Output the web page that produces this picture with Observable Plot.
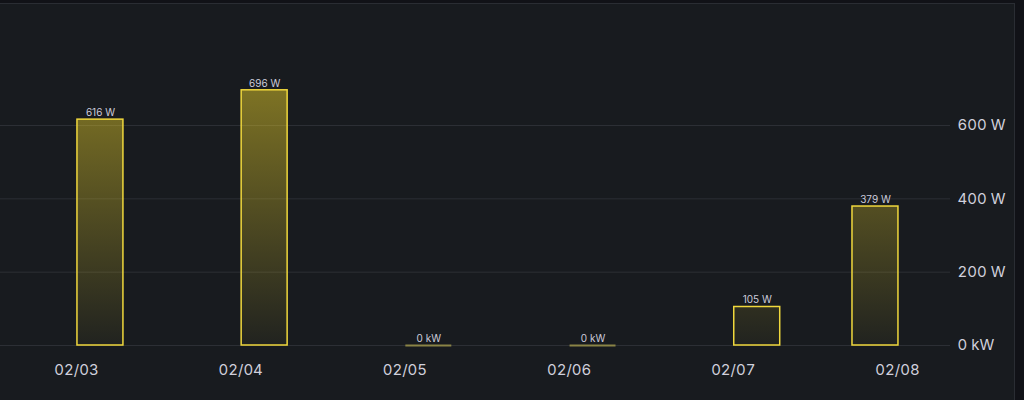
<!DOCTYPE html>
<html><head><meta charset="utf-8">
<script src="https://cdn.jsdelivr.net/npm/d3@7"></script>
<script src="https://cdn.jsdelivr.net/npm/@observablehq/plot@0.6"></script>
<style>
html,body{margin:0;padding:0;background:#111217;width:1024px;height:400px;overflow:hidden;font-family:Inter,"Noto Sans",sans-serif}
#panel{position:absolute;left:-2px;top:3px;width:1017px;height:420px;background:#181b1f;border:1px solid #2a2d33;box-sizing:border-box}
#chart{position:absolute;left:0;top:0}
</style></head><body>
<div id="panel"></div><div id="chart"></div>
<script>
// Data
const barTimes = ["2024-02-03T03:30Z","2024-02-04T03:30Z","2024-02-05T03:30Z","2024-02-06T03:30Z","2024-02-07T03:30Z","2024-02-07T20:47Z"];
const values = [616, 696, 0, 0, 105, 379];
const tickDates = ["2024-02-03","2024-02-04","2024-02-05","2024-02-06","2024-02-07","2024-02-08"];
const yTicks = [0, 200, 400, 600];

const data = barTimes.map((t, i) => ({t: new Date(t), v: values[i]}));
const half = 3.36 * 3600e3;
const fmtW = v => v === 0 ? "0 kW" : `${v} W`;

const plot = Plot.plot({
  width: 1014,
  height: 400,
  marginTop: 15,
  marginBottom: 55,
  marginLeft: 0,
  marginRight: 64,
  style: {background: "transparent", color: "#ccccdc", fontFamily: "Inter, 'Noto Sans', sans-serif"},
  x: {type: "utc", domain: [new Date("2024-02-02T12:53:30Z"), new Date("2024-02-08T07:45Z")]},
  y: {domain: [0, 900]},
  marks: [
    Plot.ruleY(yTicks, {stroke: "#2c2f35", strokeWidth: 1}),
    Plot.rect(data.filter(d => d.v > 0), {
      x1: d => new Date(+d.t - half), x2: d => new Date(+d.t + half),
      y1: 0, y2: "v",
      fill: "url(#barGrad)", stroke: "#f0d83c", strokeWidth: 1.5
    }),
    Plot.ruleY(data.filter(d => d.v === 0), {
      x1: d => new Date(+d.t - half), x2: d => new Date(+d.t + half),
      y: "v", stroke: "#8a8446", strokeWidth: 2
    }),
    Plot.text(data, {x: "t", y: "v", text: d => fmtW(d.v), dy: -7, fontSize: 10, fill: "#ccccdc"}),
    Plot.axisY({anchor: "right", ticks: yTicks, tickSize: 0, tickPadding: 7, fontSize: 15, tickFormat: fmtW, label: null, fill: "#d0d0dc"}),
    Plot.axisX({ticks: tickDates.map(d => new Date(d)), tickFormat: d3.utcFormat("%m/%d"), tickSize: 0, tickPadding: 19, fontSize: 15, label: null, fill: "#d0d0dc"})
  ]
});

const y = plot.scale("y");
const svg = d3.select(plot.tagName === "svg" ? plot : plot.querySelector("svg"));
const grad = svg.insert("defs", ":first-child").append("linearGradient")
  .attr("id", "barGrad").attr("gradientUnits", "userSpaceOnUse")
  .attr("x1", 0).attr("x2", 0).attr("y1", y.apply(900)).attr("y2", y.apply(0));
grad.append("stop").attr("offset", 0).attr("stop-color", "#fade2a").attr("stop-opacity", 0.57);
grad.append("stop").attr("offset", 1).attr("stop-color", "#fade2a").attr("stop-opacity", 0.04);

document.getElementById("chart").append(plot);
</script>
</body></html>
